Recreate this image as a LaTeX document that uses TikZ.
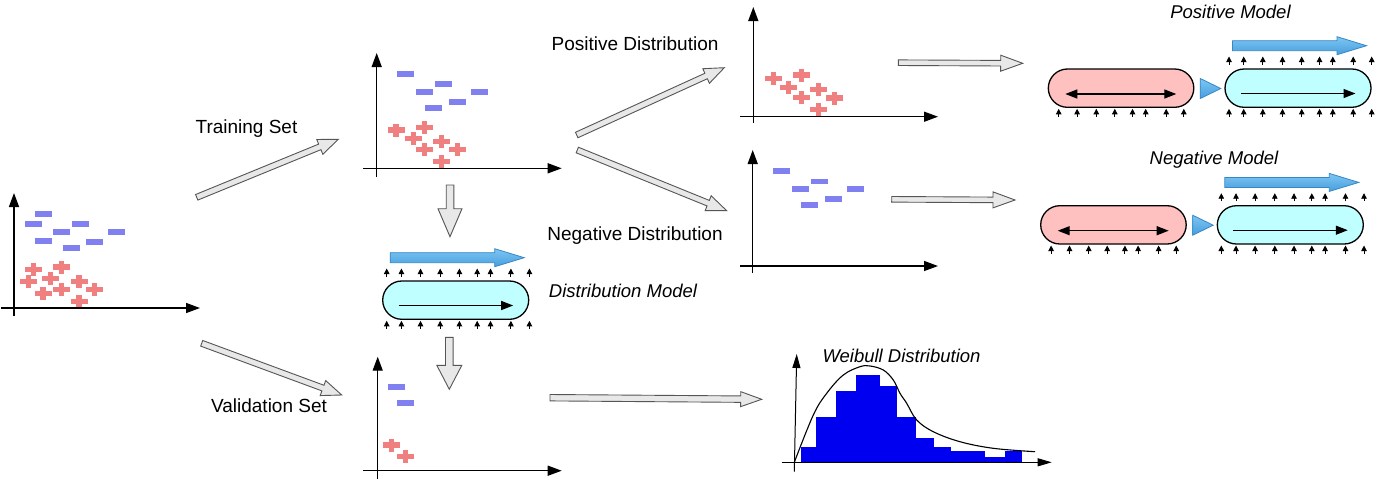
\documentclass[tikz,border=0pt]{standalone}
\usepackage{fontspec}
\setmainfont{Liberation Sans}
\usetikzlibrary{arrows.meta,shapes.misc,calc}
\definecolor{minusc}{RGB}{128,128,240}
\definecolor{plusc}{RGB}{240,128,128}
\definecolor{capcyan}{RGB}{192,255,255}
\definecolor{capred}{RGB}{255,192,192}
\definecolor{garrowfill}{RGB}{232,232,232}
\definecolor{garrowline}{RGB}{85,85,85}
\definecolor{bluetop}{RGB}{125,198,242}
\definecolor{bluebot}{RGB}{72,158,222}
\definecolor{blueline}{RGB}{55,135,200}
\definecolor{histblue}{RGB}{0,0,240}
\tikzset{
 axis/.style={line width=1.4pt, -{Triangle[length=14pt,width=10pt]}},
 thinaxis/.style={line width=1pt, -{Triangle[length=14pt,width=8pt]}},
 hollow/.style={fill=garrowfill, draw=garrowline, line width=0.9pt, line join=miter},
 tinyarrow/.style={line width=0.9pt, -{Triangle[length=5.5pt,width=5.5pt]}},
 innerarrow/.style={line width=1.3pt, -{Triangle[length=12pt,width=9pt]}},
 dblarrow/.style={line width=1.3pt, {Triangle[length=12pt,width=9pt]}-{Triangle[length=12pt,width=9pt]}},
 capsule/.style={rounded rectangle, draw, line width=1.3pt, minimum width=146pt, minimum height=38.3pt, inner sep=0pt},
 bigblue/.style={top color=bluetop, bottom color=bluebot, draw=blueline, line width=0.8pt},
 lbl/.style={font=\fontsize{19}{22}\selectfont, anchor=base, inner sep=0pt},
 ilbl/.style={font=\fontsize{18.5}{22}\selectfont\itshape, anchor=base, inner sep=0pt},
}
\newcommand\mn[2]{\fill[minusc] (#1-8.5,#2-2.8) rectangle (#1+8.5,#2+2.8);}
\newcommand\pl[2]{\fill[plusc] (#1-8.5,#2-2.75) rectangle (#1+8.5,#2+2.75);
  \fill[plusc] (#1-2.75,#2-6.5) rectangle (#1+2.75,#2+6.5);}
\newcommand\harrow[5]{% #1 shaft half width, #2 head half width, #3 head length, #4 from, #5 to
 \draw[hollow] let \p1=(#4), \p2=(#5), \n1={veclen(\x2-\x1,\y2-\y1)},
   \n2={(\x2-\x1)/\n1}, \n3={(\y2-\y1)/\n1} in
 ({\x1-#1*(\n3)},{\y1+#1*(\n2)}) --
 ({\x2-#3*(\n2)-#1*(\n3)},{\y2-#3*(\n3)+#1*(\n2)}) --
 ({\x2-#3*(\n2)-#2*(\n3)},{\y2-#3*(\n3)+#2*(\n2)}) --
 (\p2) --
 ({\x2-#3*(\n2)+#2*(\n3)},{\y2-#3*(\n3)-#2*(\n2)}) --
 ({\x2-#3*(\n2)+#1*(\n3)},{\y2-#3*(\n3)-#1*(\n2)}) --
 ({\x1+#1*(\n3)},{\y1-#1*(\n2)}) -- cycle;}
\newcommand\bluearrow[3]{% x0, x1, yc
 \path[bigblue] (#1,#3-5) -- (#2-29.5,#3-5) -- (#2-29.5,#3-9) -- (#2,#3) --
   (#2-29.5,#3+9) -- (#2-29.5,#3+5) -- (#1,#3+5) -- cycle;}
\newcommand\cyanmodel[3]{% name, left, top
 \begin{scope}[shift={(#2,#3)}]
 \bluearrow{7.5}{141.5}{-23.3}
 \foreach \o in {4,18.7,37.8,57.5,76.7,94.5,107.8,128.2,146.7} {
   \draw[tinyarrow] (\o,-4.5) -- (\o,-12.5);
   \draw[tinyarrow] (\o,47.8) -- (\o,39.8);
 }
 \node[capsule, fill=capcyan] (#1) at (73,19.15) {};
 \draw[innerarrow] (16,24.5) -- (130.5,24.5);
 \end{scope}}
\newcommand\redmodel[3]{% name, left, top
 \begin{scope}[shift={(#2,#3)}]
 \foreach \o in {10.4,28.8,48,66.5,84.2,97.4,117.9,135.5}
   \draw[tinyarrow] (\o,47.8) -- (\o,39.8);
 \node[capsule, fill=capred, minimum width=145.5pt] (#1) at (72.75,19.15) {};
 \draw[dblarrow] (17,25) -- (128,25);
 \path[bigblue] (152,9.5) -- (172.5,19.5) -- (152,29.5) -- cycle;
 \end{scope}}
\begin{document}
\begin{tikzpicture}[x=1pt,y=-1pt]
\path[use as bounding box, fill=white] (0,0) rectangle (1376,483);

% ---- input data plot
\foreach \a/\b in {43/213.7,33.3/223.7,80.3/223.7,61.3/232,116.3/232,43/240.7,94.3/241.7,71.3/248} {\mn{\a}{\b}}
\foreach \a/\b in {33.7/269.7,61.3/267,28.7/281.7,50.3/278.3,79/281.7,43/293.7,61.3/289.7,94.3/289.7,79/301.3} {\pl{\a}{\b}}
\draw[axis] (14,316) -- (14,193);
\draw[axis] (1,308) -- (200,308);

% ---- training plot
\foreach \a/\b in {405.7/73.7,443/83.7,424.3/91.7,479.3/91.7,457.3/101.7,433.3/107.7} {\mn{\a}{\b}}
\foreach \a/\b in {396/130,424.3/127.3,413.3/138.7,441.3/141.3,424.7/149.3,457.3/149.3,441.3/161.7} {\pl{\a}{\b}}
\draw[axis] (376.7,177) -- (376.7,53);
\draw[axis] (363,168.3) -- (561.7,168.3);

% ---- positive distribution plot
\foreach \a/\b in {773.3/78.7,801.7/75,788.3/87.3,818.3/89.3,801.7/97.3,834.3/98,818.3/109.3} {\pl{\a}{\b}}
\draw[axis] (753.3,123) -- (753.3,7);
\draw[axis] (740,116.7) -- (938,116.7);

% ---- negative distribution plot
\foreach \a/\b in {781.3/170.7,819.3/181.3,800.3/189,855.3/189,833.3/198.7,809.3/204.7} {\mn{\a}{\b}}
\draw[axis] (752.7,273) -- (752.7,150);
\draw[axis] (740,266) -- (938,266);

% ---- validation plot
\mn{396}{386.7} \mn{405.3}{403}
\pl{391.7}{445} \pl{405.3}{456.7}
\draw[axis] (377.7,479) -- (377.7,356.7);
\draw[axis] (363.3,470.7) -- (561.7,470.7);

% ---- Weibull plot
\foreach \a/\b/\t in {800.7/816/447.3,816/836/417.3,836/855.7/391,855.7/880/375,880/896.7/386,896.7/916/417.3,916/934/437.7,934/950.7/446.7,950.7/985/450.7,985/1005/456.7,1005/1021.7/450.7}
  \fill[histblue] (\a,462) rectangle (\b,\t);
\draw[thinaxis] (794.3,471.7) -- (796.7,354);
\draw[thinaxis] (781.7,462.3) -- (1051.7,462.3);
\draw[line width=1.1pt] plot[smooth, tension=0.6] coordinates {(794.3,462.3) (813.3,415) (826.7,393.3) (843.3,375) (860,366.7) (870,366) (883.3,370) (893.3,380) (900,393.3) (906.7,403.3) (916.7,420) (933.3,431.7) (960,441.7) (993.3,448.3) (1035,451.7)};

% ---- models
\cyanmodel{distm}{382.7}{281}
\redmodel{posred}{1048.3}{69}
\cyanmodel{poscyan}{1225}{69}
\redmodel{negred}{1040.7}{205.7}
\cyanmodel{negcyan}{1217.3}{205.7}

% ---- hollow arrows
\coordinate (a1s) at (196.7,197.3); \coordinate (a1e) at (338.3,139.3);
\coordinate (a2s) at (201.7,343.3); \coordinate (a2e) at (341.7,395);
\coordinate (a3s) at (450,185);     \coordinate (a3e) at (450,236.7);
\coordinate (a4s) at (449.3,337.3); \coordinate (a4e) at (449.3,389.3);
\coordinate (a5s) at (576.7,135);   \coordinate (a5e) at (724.3,67.7);
\coordinate (a6s) at (577.3,150);   \coordinate (a6e) at (726.7,210.7);
\coordinate (a7s) at (898.3,62.7);  \coordinate (a7e) at (1022.7,63.3);
\coordinate (a8s) at (891.7,199.3); \coordinate (a8e) at (1015,200);
\coordinate (a9s) at (550,397.7);   \coordinate (a9e) at (761.7,399.3);
\harrow{3}{8}{20}{a1s}{a1e}
\harrow{3}{8}{20}{a2s}{a2e}
\harrow{3.8}{12}{28}{a3s}{a3e}
\harrow{3.8}{12.5}{24}{a4s}{a4e}
\harrow{3}{8}{20}{a5s}{a5e}
\harrow{3}{8}{20}{a6s}{a6e}
\harrow{2.8}{8}{22}{a7s}{a7e}
\harrow{2.8}{8}{22}{a8s}{a8e}
\harrow{3.2}{7.5}{21}{a9s}{a9e}

% ---- labels
\node[lbl] (ltrain) at (246.5,133.5) {Training Set};
\node[lbl] (lval) at (269,412.5) {Validation Set};
\node[lbl] (lpos) at (635,50.5) {Positive Distribution};
\node[lbl] (lneg) at (635,240) {Negative Distribution};
\node[ilbl] (ldm) at (623,297.5) {Distribution Model};
\node[ilbl] (lweib) at (901.5,362.5) {Weibull Distribution};
\node[ilbl] (lpm) at (1230.5,18.5) {Positive Model};
\node[ilbl] (lnm) at (1214,164) {Negative Model};
\end{tikzpicture}
\end{document}
